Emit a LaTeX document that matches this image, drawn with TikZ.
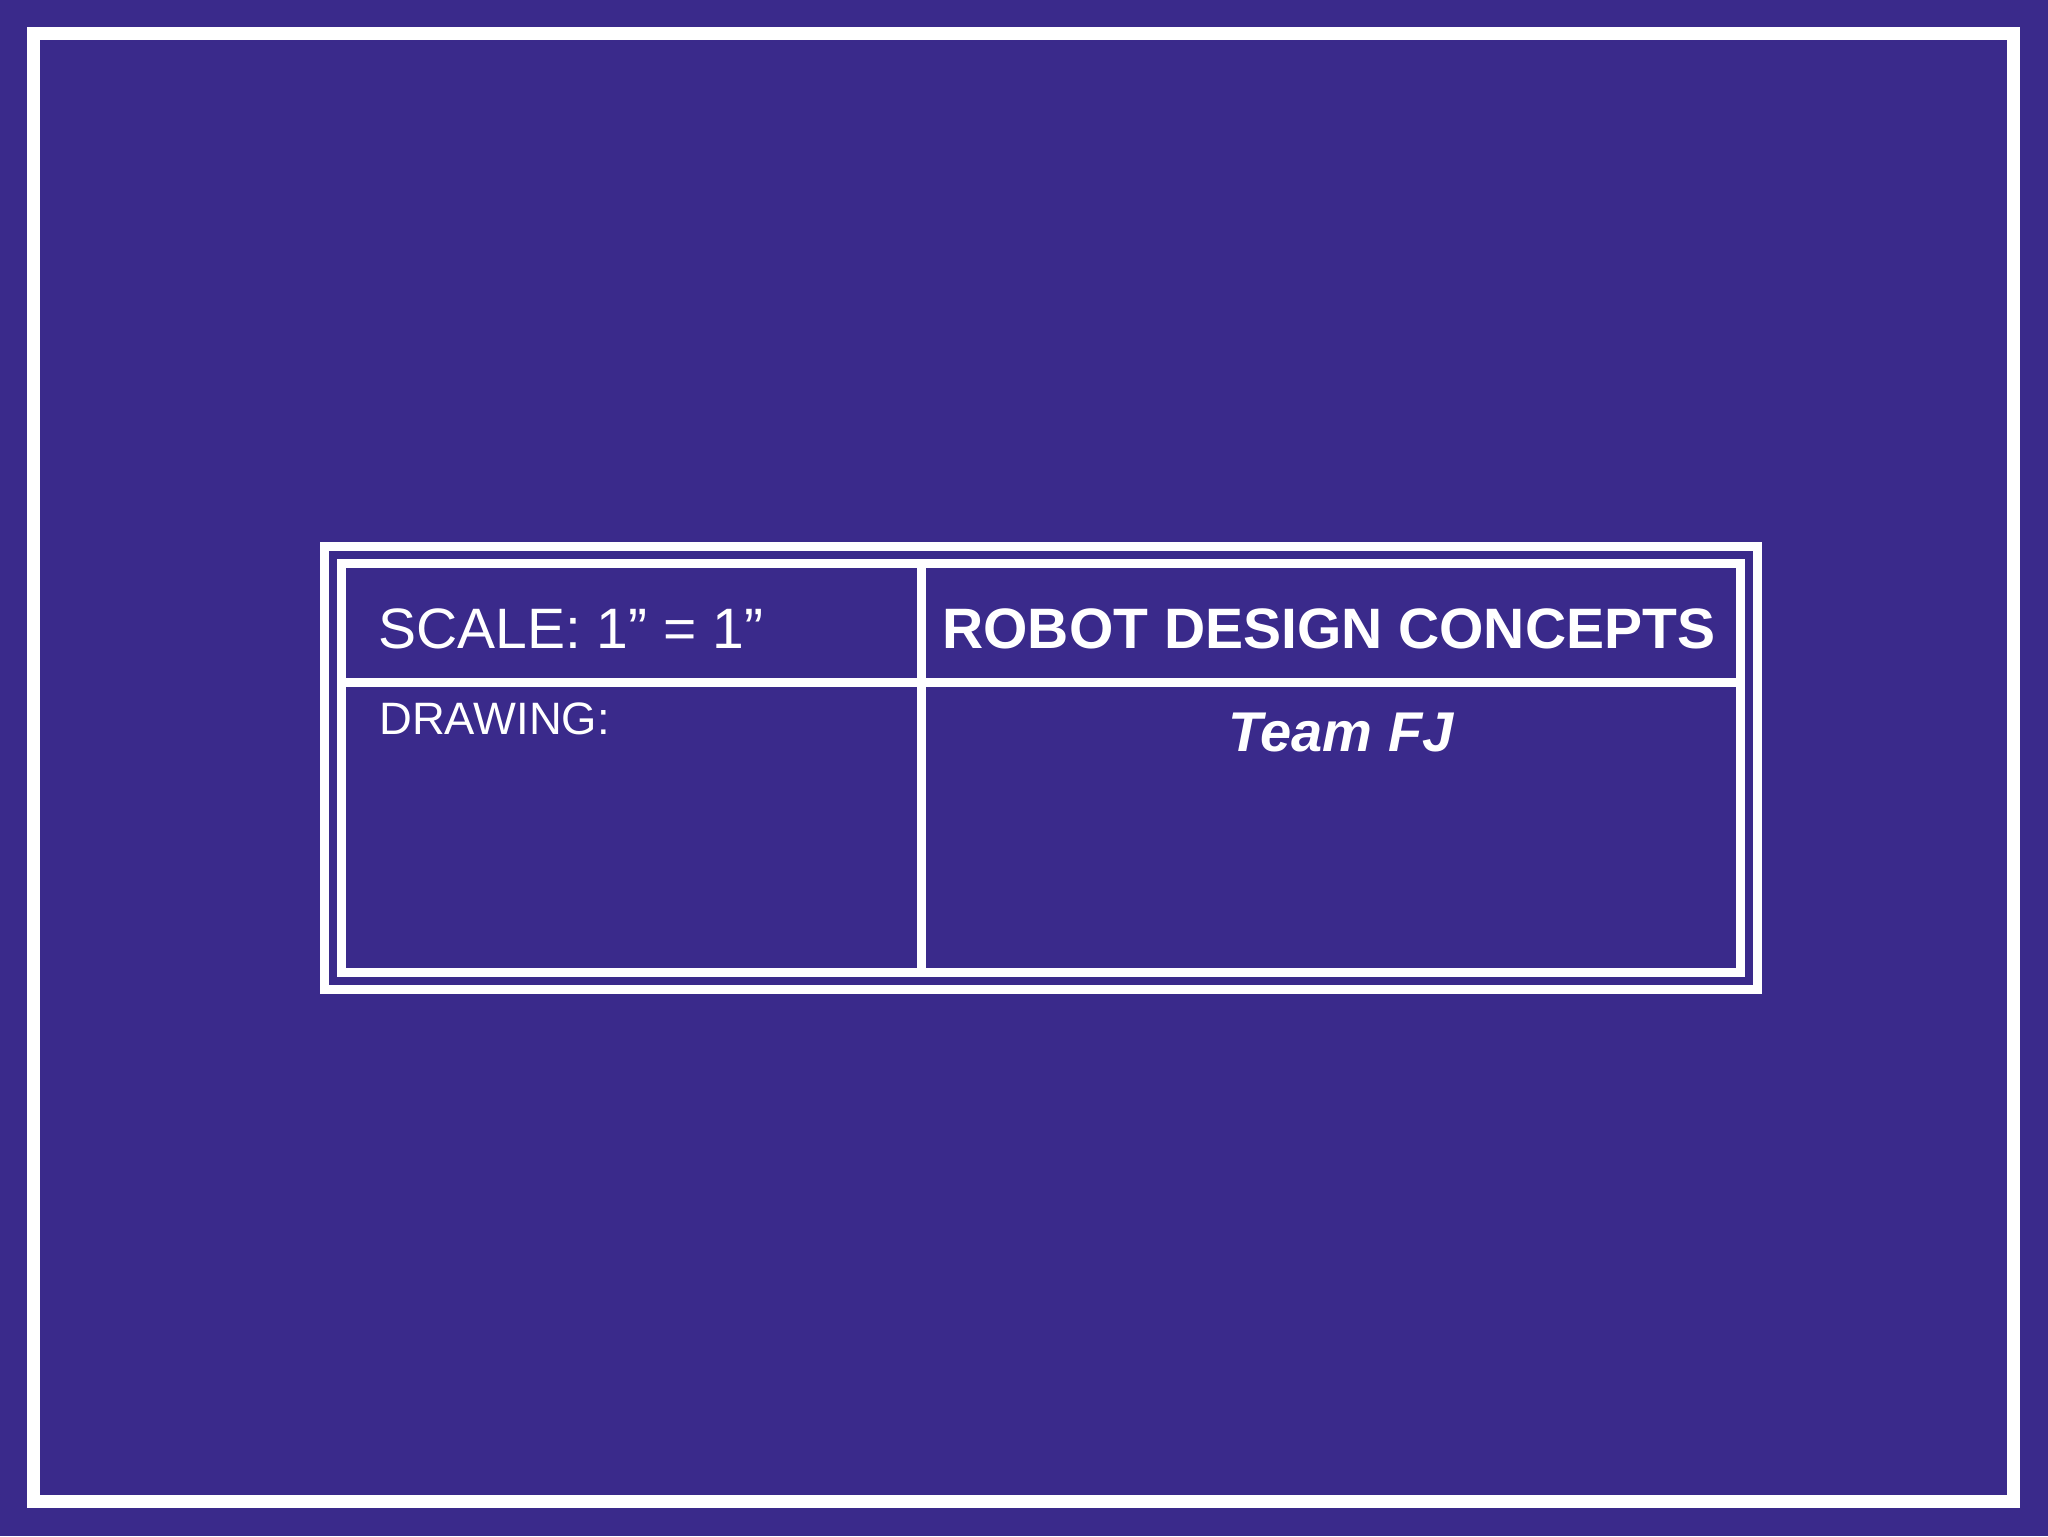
\documentclass[tikz,border=0pt]{standalone}
\usepackage{fontspec}
\setmainfont{Liberation Sans}
\definecolor{bgpurple}{RGB}{58,42,139}
\begin{document}
\begin{tikzpicture}[x=0.5pt,y=-0.5pt,
  frame/.style={draw=white,line width=6.5pt},
  blockline/.style={draw=white,line width=4.5pt},
  lbl/.style={text=white,inner sep=0pt,font=#1},
]
\useasboundingbox[fill=bgpurple] (0,0) rectangle (2048,1536);
% outer frame
\draw[frame] (33.5,33.5) rectangle (2013.5,1501.5);
% title block
\draw[blockline] (324.5,546) rectangle (1757.5,989.5);
\draw[blockline] (341,563.5) rectangle (1740.5,972.5);
\draw[blockline] (341,682) -- (1740.5,682);
\draw[blockline] (921,563.5) -- (921,972.5);
% texts
\node[lbl={\fontsize{28.5pt}{30pt}\selectfont},anchor=base west] (scale) at (378,648) {SCALE: 1” = 1”};
\node[lbl={\fontsize{22.7pt}{24pt}\selectfont},anchor=base west] (drawing) at (379,734) {DRAWING:};
\node[lbl={\fontsize{28.5pt}{30pt}\selectfont\bfseries},anchor=base west] (title) at (942,648) {ROBOT DESIGN CONCEPTS};
\node[lbl={\fontsize{28pt}{30pt}\selectfont\bfseries\itshape},anchor=base] (team) at (1341,751) {Team FJ};
\end{tikzpicture}
\end{document}
